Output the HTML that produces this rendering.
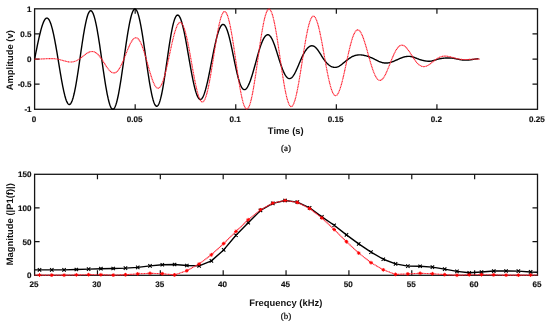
<!DOCTYPE html>
<html><head><meta charset="utf-8"><title>Figure</title>
<style>html,body{margin:0;padding:0;background:#fff}svg{display:block}</style>
</head><body>
<svg width="550" height="325" viewBox="0 0 550 325">
<rect width="550" height="325" fill="#fff"/>
<style>text{text-rendering:geometricPrecision}.tk{font:bold 81.0px "Liberation Sans", Arial, Helvetica, sans-serif;fill:#111;stroke:#111;stroke-width:1.5px}.lb{font:bold 94.0px "Liberation Sans", Arial, Helvetica, sans-serif;fill:#111}.cp{font:90px "Liberation Serif", "Times New Roman", serif;fill:#111;stroke:#111;stroke-width:2.5px}</style>
<rect x="34.6" y="8.8" width="502.9" height="100.5" fill="none" stroke="#151515" stroke-width="1.3"/>
<path d="M135.18,109.3 v-5 M135.18,8.8 v5" stroke="#111" stroke-width="1.2" fill="none"/>
<path d="M235.76,109.3 v-5 M235.76,8.8 v5" stroke="#111" stroke-width="1.2" fill="none"/>
<path d="M336.34,109.3 v-5 M336.34,8.8 v5" stroke="#111" stroke-width="1.2" fill="none"/>
<path d="M436.92,109.3 v-5 M436.92,8.8 v5" stroke="#111" stroke-width="1.2" fill="none"/>
<path d="M34.6,33.92 h5 M537.5,33.92 h-5" stroke="#111" stroke-width="1.2" fill="none"/>
<path d="M34.6,59.05 h5 M537.5,59.05 h-5" stroke="#111" stroke-width="1.2" fill="none"/>
<path d="M34.6,84.17 h5 M537.5,84.17 h-5" stroke="#111" stroke-width="1.2" fill="none"/>
<text transform="translate(34.00,121.60) scale(0.1)" text-anchor="middle" class="tk">0</text>
<text transform="translate(134.58,121.60) scale(0.1)" text-anchor="middle" class="tk">0.05</text>
<text transform="translate(235.16,121.60) scale(0.1)" text-anchor="middle" class="tk">0.1</text>
<text transform="translate(335.74,121.60) scale(0.1)" text-anchor="middle" class="tk">0.15</text>
<text transform="translate(436.32,121.60) scale(0.1)" text-anchor="middle" class="tk">0.2</text>
<text transform="translate(536.90,121.60) scale(0.1)" text-anchor="middle" class="tk">0.25</text>
<text transform="translate(31.60,11.80) scale(0.1)" text-anchor="end" class="tk">1</text>
<text transform="translate(31.60,36.92) scale(0.1)" text-anchor="end" class="tk">0.5</text>
<text transform="translate(31.60,62.05) scale(0.1)" text-anchor="end" class="tk">0</text>
<text transform="translate(31.60,87.17) scale(0.1)" text-anchor="end" class="tk">-0.5</text>
<text transform="translate(31.60,112.30) scale(0.1)" text-anchor="end" class="tk">-1</text>
<text transform="translate(285.75,134.00) scale(0.1)" text-anchor="middle" class="lb">Time (s)</text>
<text transform="translate(12.70,60.25) rotate(-90) scale(0.1)" text-anchor="middle" class="lb">Amplitude (v)</text>
<clipPath id="c1"><rect x="33.6" y="7.800000000000001" width="504.9" height="102.5"/></clipPath>
<g clip-path="url(#c1)">
<path d="M34.60,59.05 L35.09,56.60 L35.59,54.15 L36.08,51.70 L36.58,49.27 L37.07,46.86 L37.56,44.48 L38.06,42.15 L38.55,39.88 L39.04,37.66 L39.54,35.52 L40.03,33.47 L40.53,31.50 L41.02,29.64 L41.51,27.89 L42.01,26.26 L42.50,24.75 L43.00,23.38 L43.49,22.16 L43.98,21.08 L44.48,20.16 L44.97,19.40 L45.46,18.80 L45.96,18.38 L46.45,18.14 L46.95,18.07 L47.44,18.18 L47.93,18.48 L48.43,18.96 L48.92,19.62 L49.42,20.46 L49.91,21.49 L50.40,22.69 L50.90,24.07 L51.39,25.61 L51.88,27.32 L52.38,29.19 L52.87,31.21 L53.37,33.37 L53.86,35.67 L54.35,38.09 L54.85,40.63 L55.34,43.27 L55.84,46.00 L56.33,48.81 L56.82,51.69 L57.32,54.63 L57.81,57.60 L58.30,60.60 L58.80,63.61 L59.29,66.61 L59.79,69.60 L60.28,72.55 L60.77,75.45 L61.27,78.30 L61.76,81.06 L62.25,83.73 L62.75,86.29 L63.24,88.73 L63.74,91.04 L64.23,93.20 L64.72,95.20 L65.22,97.03 L65.71,98.69 L66.21,100.15 L66.70,101.41 L67.19,102.46 L67.69,103.31 L68.18,103.93 L68.67,104.33 L69.17,104.50 L69.66,104.45 L70.16,104.17 L70.65,103.65 L71.14,102.91 L71.64,101.94 L72.13,100.74 L72.63,99.32 L73.12,97.68 L73.61,95.83 L74.11,93.79 L74.60,91.55 L75.09,89.13 L75.59,86.54 L76.08,83.79 L76.58,80.91 L77.07,77.89 L77.56,74.76 L78.06,71.54 L78.55,68.24 L79.05,64.88 L79.54,61.48 L80.03,58.05 L80.53,54.62 L81.02,51.20 L81.51,47.82 L82.01,44.49 L82.50,41.23 L83.00,38.05 L83.49,34.98 L83.98,32.03 L84.48,29.23 L84.97,26.57 L85.47,24.08 L85.96,21.78 L86.45,19.66 L86.95,17.75 L87.44,16.06 L87.93,14.59 L88.43,13.34 L88.92,12.34 L89.42,11.57 L89.91,11.05 L90.40,10.77 L90.90,10.73 L91.39,10.94 L91.89,11.39 L92.38,12.07 L92.87,12.99 L93.37,14.14 L93.86,15.51 L94.35,17.10 L94.85,18.90 L95.34,20.90 L95.84,23.08 L96.33,25.45 L96.82,27.99 L97.32,30.68 L97.81,33.51 L98.31,36.47 L98.80,39.54 L99.29,42.72 L99.79,45.98 L100.28,49.31 L100.77,52.69 L101.27,56.11 L101.76,59.55 L102.26,62.99 L102.75,66.42 L103.24,69.82 L103.74,73.17 L104.23,76.46 L104.72,79.67 L105.22,82.79 L105.71,85.79 L106.21,88.68 L106.70,91.42 L107.19,94.01 L107.69,96.43 L108.18,98.68 L108.68,100.73 L109.17,102.59 L109.66,104.23 L110.16,105.66 L110.65,106.86 L111.14,107.83 L111.64,108.55 L112.13,109.04 L112.63,109.27 L113.12,109.26 L113.61,109.01 L114.11,108.51 L114.60,107.76 L115.10,106.78 L115.59,105.57 L116.08,104.13 L116.58,102.47 L117.07,100.60 L117.56,98.52 L118.06,96.25 L118.55,93.80 L119.05,91.18 L119.54,88.40 L120.03,85.48 L120.53,82.44 L121.02,79.27 L121.52,76.01 L122.01,72.66 L122.50,69.25 L123.00,65.79 L123.49,62.30 L123.98,58.79 L124.48,55.28 L124.97,51.79 L125.47,48.33 L125.96,44.93 L126.45,41.59 L126.95,38.35 L127.44,35.20 L127.94,32.17 L128.43,29.27 L128.92,26.52 L129.42,23.93 L129.91,21.51 L130.40,19.28 L130.90,17.24 L131.39,15.41 L131.89,13.80 L132.38,12.40 L132.87,11.24 L133.37,10.32 L133.86,9.64 L134.36,9.20 L134.85,9.01 L135.34,9.07 L135.84,9.38 L136.33,9.95 L136.82,10.76 L137.32,11.81 L137.81,13.10 L138.31,14.62 L138.80,16.36 L139.29,18.31 L139.79,20.47 L140.28,22.81 L140.78,25.33 L141.27,28.02 L141.76,30.85 L142.26,33.82 L142.75,36.91 L143.24,40.10 L143.74,43.38 L144.23,46.73 L144.73,50.14 L145.22,53.58 L145.71,57.04 L146.21,60.50 L146.70,63.95 L147.20,67.36 L147.69,70.73 L148.18,74.02 L148.68,77.23 L149.17,80.35 L149.66,83.34 L150.16,86.21 L150.65,88.93 L151.15,91.49 L151.64,93.89 L152.13,96.10 L152.63,98.11 L153.12,99.93 L153.61,101.52 L154.11,102.90 L154.60,104.05 L155.10,104.97 L155.59,105.64 L156.08,106.08 L156.58,106.27 L157.07,106.21 L157.57,105.90 L158.06,105.34 L158.55,104.53 L159.05,103.48 L159.54,102.19 L160.03,100.65 L160.53,98.90 L161.02,96.92 L161.52,94.73 L162.01,92.35 L162.50,89.79 L163.00,87.06 L163.49,84.17 L163.99,81.15 L164.48,78.01 L164.97,74.78 L165.47,71.46 L165.96,68.09 L166.45,64.67 L166.95,61.24 L167.44,57.80 L167.94,54.39 L168.43,51.02 L168.92,47.70 L169.42,44.47 L169.91,41.33 L170.41,38.31 L170.90,35.42 L171.39,32.68 L171.89,30.09 L172.38,27.69 L172.87,25.47 L173.37,23.44 L173.86,21.62 L174.36,20.01 L174.85,18.63 L175.34,17.46 L175.84,16.53 L176.33,15.82 L176.83,15.34 L177.32,15.09 L177.81,15.06 L178.31,15.25 L178.80,15.66 L179.29,16.28 L179.79,17.11 L180.28,18.13 L180.78,19.35 L181.27,20.75 L181.76,22.32 L182.26,24.06 L182.75,25.96 L183.25,28.00 L183.74,30.18 L184.23,32.47 L184.73,34.89 L185.22,37.40 L185.71,39.99 L186.21,42.67 L186.70,45.40 L187.20,48.18 L187.69,51.01 L188.18,53.85 L188.68,56.70 L189.17,59.56 L189.67,62.40 L190.16,65.21 L190.65,67.98 L191.15,70.70 L191.64,73.35 L192.13,75.93 L192.63,78.43 L193.12,80.83 L193.62,83.12 L194.11,85.29 L194.60,87.34 L195.10,89.25 L195.59,91.02 L196.08,92.64 L196.58,94.10 L197.07,95.39 L197.57,96.52 L198.06,97.47 L198.55,98.24 L199.05,98.82 L199.54,99.23 L200.04,99.44 L200.53,99.47 L201.02,99.30 L201.52,98.95 L202.01,98.41 L202.50,97.69 L203.00,96.80 L203.49,95.74 L203.99,94.52 L204.48,93.14 L204.97,91.61 L205.47,89.94 L205.96,88.14 L206.46,86.22 L206.95,84.19 L207.44,82.06 L207.94,79.84 L208.43,77.54 L208.92,75.17 L209.42,72.74 L209.91,70.27 L210.41,67.76 L210.90,65.23 L211.39,62.69 L211.89,60.14 L212.38,57.61 L212.88,55.11 L213.37,52.64 L213.86,50.21 L214.36,47.84 L214.85,45.53 L215.34,43.30 L215.84,41.16 L216.33,39.11 L216.83,37.16 L217.32,35.33 L217.81,33.62 L218.31,32.03 L218.80,30.58 L219.30,29.27 L219.79,28.11 L220.28,27.10 L220.78,26.24 L221.27,25.55 L221.76,25.02 L222.26,24.65 L222.75,24.45 L223.25,24.42 L223.74,24.56 L224.23,24.87 L224.73,25.35 L225.22,26.00 L225.72,26.82 L226.21,27.80 L226.70,28.94 L227.20,30.24 L227.69,31.69 L228.18,33.28 L228.68,35.00 L229.17,36.85 L229.67,38.81 L230.16,40.88 L230.65,43.04 L231.15,45.27 L231.64,47.57 L232.14,49.93 L232.63,52.32 L233.12,54.74 L233.62,57.17 L234.11,59.59 L234.60,62.00 L235.10,64.37 L235.59,66.71 L236.09,68.98 L236.58,71.18 L237.07,73.30 L237.57,75.32 L238.06,77.24 L238.55,79.05 L239.05,80.73 L239.54,82.29 L240.04,83.70 L240.53,84.97 L241.02,86.09 L241.52,87.07 L242.01,87.88 L242.51,88.55 L243.00,89.06 L243.49,89.41 L243.99,89.61 L244.48,89.66 L244.97,89.56 L245.47,89.33 L245.96,88.95 L246.46,88.45 L246.95,87.81 L247.44,87.06 L247.94,86.20 L248.43,85.23 L248.93,84.16 L249.42,82.99 L249.91,81.74 L250.41,80.40 L250.90,78.99 L251.39,77.51 L251.89,75.97 L252.38,74.37 L252.88,72.72 L253.37,71.02 L253.86,69.29 L254.36,67.54 L254.85,65.75 L255.35,63.95 L255.84,62.14 L256.33,60.33 L256.83,58.51 L257.32,56.72 L257.81,54.96 L258.31,53.24 L258.80,51.56 L259.30,49.92 L259.79,48.35 L260.28,46.84 L260.78,45.39 L261.27,44.02 L261.77,42.72 L262.26,41.51 L262.75,40.39 L263.25,39.36 L263.74,38.42 L264.23,37.59 L264.73,36.85 L265.22,36.22 L265.72,35.70 L266.21,35.29 L266.70,34.99 L267.20,34.81 L267.69,34.74 L268.19,34.78 L268.68,34.95 L269.17,35.23 L269.67,35.62 L270.16,36.13 L270.65,36.76 L271.15,37.50 L271.64,38.34 L272.14,39.28 L272.63,40.33 L273.12,41.46 L273.62,42.68 L274.11,43.97 L274.61,45.33 L275.10,46.75 L275.59,48.23 L276.09,49.74 L276.58,51.29 L277.07,52.86 L277.57,54.44 L278.06,56.03 L278.56,57.61 L279.05,59.18 L279.54,60.72 L280.04,62.24 L280.53,63.73 L281.03,65.17 L281.52,66.57 L282.01,67.91 L282.51,69.20 L283.00,70.42 L283.49,71.57 L283.99,72.65 L284.48,73.64 L284.98,74.56 L285.47,75.39 L285.96,76.13 L286.46,76.77 L286.95,77.33 L287.44,77.78 L287.94,78.14 L288.43,78.40 L288.93,78.56 L289.42,78.62 L289.91,78.58 L290.41,78.44 L290.90,78.21 L291.40,77.87 L291.89,77.45 L292.38,76.93 L292.88,76.33 L293.37,75.65 L293.86,74.89 L294.36,74.06 L294.85,73.16 L295.35,72.21 L295.84,71.21 L296.33,70.16 L296.83,69.07 L297.32,67.95 L297.82,66.81 L298.31,65.65 L298.80,64.49 L299.30,63.32 L299.79,62.15 L300.28,61.00 L300.78,59.86 L301.27,58.75 L301.77,57.66 L302.26,56.62 L302.75,55.61 L303.25,54.64 L303.74,53.71 L304.24,52.83 L304.73,51.99 L305.22,51.21 L305.72,50.47 L306.21,49.78 L306.70,49.14 L307.20,48.56 L307.69,48.03 L308.19,47.55 L308.68,47.13 L309.17,46.77 L309.67,46.46 L310.16,46.21 L310.66,46.02 L311.15,45.88 L311.64,45.81 L312.14,45.80 L312.63,45.85 L313.12,45.96 L313.62,46.14 L314.11,46.38 L314.61,46.69 L315.10,47.06 L315.59,47.49 L316.09,47.97 L316.58,48.51 L317.08,49.10 L317.57,49.74 L318.06,50.41 L318.56,51.12 L319.05,51.86 L319.54,52.62 L320.04,53.40 L320.53,54.19 L321.03,54.98 L321.52,55.77 L322.01,56.55 L322.51,57.32 L323.00,58.07 L323.50,58.80 L323.99,59.51 L324.48,60.18 L324.98,60.83 L325.47,61.46 L325.96,62.05 L326.46,62.61 L326.95,63.14 L327.45,63.64 L327.94,64.11 L328.43,64.55 L328.93,64.96 L329.42,65.33 L329.91,65.68 L330.41,65.99 L330.90,66.27 L331.40,66.52 L331.89,66.74 L332.38,66.93 L332.88,67.08 L333.37,67.20 L333.87,67.30 L334.36,67.35 L334.85,67.38 L335.35,67.37 L335.84,67.32 L336.33,67.24 L336.83,67.12 L337.32,66.97 L337.82,66.78 L338.31,66.56 L338.80,66.31 L339.30,66.04 L339.79,65.74 L340.29,65.42 L340.78,65.08 L341.27,64.72 L341.77,64.35 L342.26,63.96 L342.75,63.57 L343.25,63.17 L343.74,62.76 L344.24,62.35 L344.73,61.94 L345.22,61.54 L345.72,61.13 L346.21,60.73 L346.71,60.34 L347.20,59.95 L347.69,59.58 L348.19,59.21 L348.68,58.86 L349.17,58.51 L349.67,58.18 L350.16,57.86 L350.66,57.55 L351.15,57.26 L351.64,56.98 L352.14,56.72 L352.63,56.47 L353.13,56.24 L353.62,56.04 L354.11,55.84 L354.61,55.67 L355.10,55.52 L355.59,55.38 L356.09,55.26 L356.58,55.16 L357.08,55.08 L357.57,55.01 L358.06,54.96 L358.56,54.92 L359.05,54.89 L359.55,54.88 L360.04,54.88 L360.53,54.89 L361.03,54.92 L361.52,54.96 L362.01,55.01 L362.51,55.08 L363.00,55.15 L363.50,55.24 L363.99,55.34 L364.48,55.44 L364.98,55.56 L365.47,55.68 L365.97,55.81 L366.46,55.95 L366.95,56.10 L367.45,56.26 L367.94,56.42 L368.43,56.59 L368.93,56.77 L369.42,56.96 L369.92,57.15 L370.41,57.35 L370.90,57.55 L371.40,57.76 L371.89,57.98 L372.39,58.21 L372.88,58.43 L373.37,58.67 L373.87,58.91 L374.36,59.15 L374.85,59.40 L375.35,59.64 L375.84,59.89 L376.34,60.14 L376.83,60.39 L377.32,60.63 L377.82,60.87 L378.31,61.10 L378.80,61.33 L379.30,61.54 L379.79,61.75 L380.29,61.94 L380.78,62.12 L381.27,62.29 L381.77,62.44 L382.26,62.58 L382.76,62.70 L383.25,62.80 L383.74,62.89 L384.24,62.96 L384.73,63.01 L385.22,63.05 L385.72,63.07 L386.21,63.07 L386.71,63.05 L387.20,63.02 L387.69,62.96 L388.19,62.89 L388.68,62.81 L389.18,62.71 L389.67,62.60 L390.16,62.47 L390.66,62.33 L391.15,62.18 L391.64,62.02 L392.14,61.85 L392.63,61.67 L393.13,61.48 L393.62,61.29 L394.11,61.09 L394.61,60.88 L395.10,60.67 L395.60,60.45 L396.09,60.23 L396.58,60.01 L397.08,59.79 L397.57,59.56 L398.06,59.34 L398.56,59.11 L399.05,58.89 L399.55,58.67 L400.04,58.46 L400.53,58.25 L401.03,58.04 L401.52,57.85 L402.02,57.66 L402.51,57.48 L403.00,57.31 L403.50,57.16 L403.99,57.01 L404.48,56.88 L404.98,56.76 L405.47,56.66 L405.97,56.57 L406.46,56.49 L406.95,56.44 L407.45,56.39 L407.94,56.36 L408.44,56.35 L408.93,56.35 L409.42,56.37 L409.92,56.40 L410.41,56.46 L410.90,56.53 L411.40,56.61 L411.89,56.72 L412.39,56.84 L412.88,56.98 L413.37,57.13 L413.87,57.29 L414.36,57.46 L414.86,57.65 L415.35,57.83 L415.84,58.03 L416.34,58.23 L416.83,58.43 L417.32,58.63 L417.82,58.82 L418.31,59.01 L418.81,59.20 L419.30,59.37 L419.79,59.55 L420.29,59.71 L420.78,59.87 L421.27,60.01 L421.77,60.16 L422.26,60.29 L422.76,60.41 L423.25,60.53 L423.74,60.64 L424.24,60.74 L424.73,60.84 L425.23,60.92 L425.72,61.00 L426.21,61.07 L426.71,61.12 L427.20,61.17 L427.69,61.21 L428.19,61.23 L428.68,61.25 L429.18,61.25 L429.67,61.23 L430.16,61.19 L430.66,61.14 L431.15,61.07 L431.65,60.99 L432.14,60.89 L432.63,60.77 L433.13,60.65 L433.62,60.51 L434.11,60.36 L434.61,60.21 L435.10,60.06 L435.60,59.90 L436.09,59.75 L436.58,59.59 L437.08,59.45 L437.57,59.30 L438.07,59.17 L438.56,59.04 L439.05,58.93 L439.55,58.82 L440.04,58.72 L440.53,58.62 L441.03,58.54 L441.52,58.46 L442.02,58.39 L442.51,58.33 L443.00,58.27 L443.50,58.22 L443.99,58.17 L444.49,58.13 L444.98,58.09 L445.47,58.06 L445.97,58.03 L446.46,58.01 L446.95,57.98 L447.45,57.97 L447.94,57.96 L448.44,57.95 L448.93,57.94 L449.42,57.95 L449.92,57.96 L450.41,57.98 L450.91,58.01 L451.40,58.05 L451.89,58.09 L452.39,58.15 L452.88,58.22 L453.37,58.29 L453.87,58.37 L454.36,58.46 L454.86,58.56 L455.35,58.65 L455.84,58.76 L456.34,58.86 L456.83,58.96 L457.33,59.07 L457.82,59.17 L458.31,59.28 L458.81,59.38 L459.30,59.48 L459.79,59.58 L460.29,59.67 L460.78,59.76 L461.28,59.84 L461.77,59.91 L462.26,59.97 L462.76,60.03 L463.25,60.07 L463.74,60.10 L464.24,60.13 L464.73,60.15 L465.23,60.15 L465.72,60.15 L466.21,60.15 L466.71,60.13 L467.20,60.11 L467.70,60.07 L468.19,60.04 L468.68,59.99 L469.18,59.94 L469.67,59.88 L470.16,59.82 L470.66,59.76 L471.15,59.69 L471.65,59.62 L472.14,59.54 L472.63,59.47 L473.13,59.40 L473.62,59.32 L474.12,59.25 L474.61,59.18 L475.10,59.11 L475.60,59.04 L476.09,58.97 L476.58,58.91 L477.08,58.85 L477.57,58.80 L478.07,58.75 L478.56,58.70" fill="none" stroke="#000" stroke-width="1.4" stroke-linejoin="round"/>
<path d="M34.60,59.05 L35.10,59.05 L35.59,59.05 L36.09,59.05 L36.58,59.05 L37.08,59.04 L37.57,59.04 L38.07,59.04 L38.56,59.03 L39.06,59.02 L39.55,59.01 L40.05,59.00 L40.54,58.98 L41.04,58.97 L41.53,58.95 L42.03,58.93 L42.52,58.91 L43.02,58.89 L43.51,58.86 L44.01,58.84 L44.50,58.81 L45.00,58.78 L45.49,58.76 L45.99,58.73 L46.48,58.70 L46.98,58.68 L47.47,58.65 L47.97,58.63 L48.46,58.61 L48.96,58.59 L49.45,58.58 L49.95,58.56 L50.44,58.56 L50.94,58.56 L51.43,58.56 L51.93,58.57 L52.42,58.58 L52.92,58.61 L53.42,58.63 L53.91,58.67 L54.41,58.71 L54.90,58.76 L55.40,58.82 L55.89,58.89 L56.39,58.96 L56.88,59.04 L57.38,59.13 L57.87,59.23 L58.37,59.33 L58.86,59.44 L59.36,59.56 L59.85,59.68 L60.35,59.80 L60.84,59.94 L61.34,60.07 L61.83,60.21 L62.33,60.35 L62.82,60.49 L63.32,60.63 L63.81,60.77 L64.31,60.91 L64.80,61.05 L65.30,61.18 L65.79,61.31 L66.29,61.43 L66.78,61.54 L67.28,61.64 L67.77,61.73 L68.27,61.82 L68.76,61.88 L69.26,61.94 L69.75,61.98 L70.25,62.00 L70.74,62.01 L71.24,62.00 L71.73,61.97 L72.23,61.92 L72.73,61.86 L73.22,61.77 L73.72,61.66 L74.21,61.53 L74.71,61.38 L75.20,61.21 L75.70,61.01 L76.19,60.80 L76.69,60.56 L77.18,60.31 L77.68,60.04 L78.17,59.75 L78.67,59.44 L79.16,59.11 L79.66,58.78 L80.15,58.42 L80.65,58.06 L81.14,57.69 L81.64,57.31 L82.13,56.92 L82.63,56.53 L83.12,56.14 L83.62,55.74 L84.11,55.35 L84.61,54.97 L85.10,54.59 L85.60,54.23 L86.09,53.87 L86.59,53.54 L87.08,53.21 L87.58,52.91 L88.07,52.63 L88.57,52.38 L89.06,52.15 L89.56,51.96 L90.05,51.79 L90.55,51.66 L91.05,51.56 L91.54,51.50 L92.04,51.48 L92.53,51.50 L93.03,51.56 L93.52,51.66 L94.02,51.81 L94.51,51.99 L95.01,52.22 L95.50,52.50 L96.00,52.82 L96.49,53.18 L96.99,53.58 L97.48,54.02 L97.98,54.51 L98.47,55.03 L98.97,55.59 L99.46,56.18 L99.96,56.80 L100.45,57.46 L100.95,58.14 L101.44,58.84 L101.94,59.57 L102.43,60.31 L102.93,61.07 L103.42,61.83 L103.92,62.61 L104.41,63.38 L104.91,64.15 L105.40,64.92 L105.90,65.67 L106.39,66.42 L106.89,67.14 L107.38,67.83 L107.88,68.50 L108.37,69.14 L108.87,69.74 L109.36,70.31 L109.86,70.82 L110.36,71.29 L110.85,71.71 L111.35,72.07 L111.84,72.37 L112.34,72.61 L112.83,72.79 L113.33,72.90 L113.82,72.95 L114.32,72.92 L114.81,72.82 L115.31,72.65 L115.80,72.41 L116.30,72.09 L116.79,71.70 L117.29,71.23 L117.78,70.70 L118.28,70.09 L118.77,69.41 L119.27,68.67 L119.76,67.86 L120.26,66.99 L120.75,66.07 L121.25,65.09 L121.74,64.05 L122.24,62.98 L122.73,61.86 L123.23,60.70 L123.72,59.52 L124.22,58.30 L124.71,57.07 L125.21,55.83 L125.70,54.58 L126.20,53.32 L126.69,52.07 L127.19,50.84 L127.68,49.62 L128.18,48.43 L128.68,47.27 L129.17,46.15 L129.67,45.07 L130.16,44.05 L130.66,43.08 L131.15,42.17 L131.65,41.34 L132.14,40.58 L132.64,39.90 L133.13,39.30 L133.63,38.79 L134.12,38.38 L134.62,38.06 L135.11,37.84 L135.61,37.73 L136.10,37.72 L136.60,37.82 L137.09,38.02 L137.59,38.34 L138.08,38.76 L138.58,39.29 L139.07,39.93 L139.57,40.67 L140.06,41.52 L140.56,42.47 L141.05,43.51 L141.55,44.65 L142.04,45.88 L142.54,47.19 L143.03,48.58 L143.53,50.04 L144.02,51.57 L144.52,53.16 L145.01,54.80 L145.51,56.49 L146.00,58.21 L146.50,59.96 L147.00,61.73 L147.49,63.51 L147.99,65.29 L148.48,67.07 L148.98,68.83 L149.47,70.57 L149.97,72.27 L150.46,73.93 L150.96,75.54 L151.45,77.09 L151.95,78.56 L152.44,79.96 L152.94,81.27 L153.43,82.49 L153.93,83.61 L154.42,84.62 L154.92,85.52 L155.41,86.30 L155.91,86.95 L156.40,87.47 L156.90,87.85 L157.39,88.10 L157.89,88.21 L158.38,88.17 L158.88,87.99 L159.37,87.66 L159.87,87.19 L160.36,86.57 L160.86,85.81 L161.35,84.91 L161.85,83.87 L162.34,82.69 L162.84,81.39 L163.33,79.96 L163.83,78.41 L164.32,76.75 L164.82,74.98 L165.31,73.11 L165.81,71.16 L166.31,69.12 L166.80,67.02 L167.30,64.85 L167.79,62.63 L168.29,60.37 L168.78,58.08 L169.28,55.78 L169.77,53.46 L170.27,51.15 L170.76,48.86 L171.26,46.59 L171.75,44.37 L172.25,42.19 L172.74,40.08 L173.24,38.04 L173.73,36.08 L174.23,34.22 L174.72,32.46 L175.22,30.82 L175.71,29.30 L176.21,27.92 L176.70,26.68 L177.20,25.58 L177.69,24.64 L178.19,23.86 L178.68,23.25 L179.18,22.81 L179.67,22.54 L180.17,22.45 L180.66,22.54 L181.16,22.81 L181.65,23.26 L182.15,23.89 L182.64,24.70 L183.14,25.69 L183.63,26.84 L184.13,28.17 L184.63,29.65 L185.12,31.30 L185.62,33.09 L186.11,35.03 L186.61,37.09 L187.10,39.28 L187.60,41.59 L188.09,44.00 L188.59,46.50 L189.08,49.08 L189.58,51.73 L190.07,54.43 L190.57,57.18 L191.06,59.95 L191.56,62.74 L192.05,65.53 L192.55,68.31 L193.04,71.07 L193.54,73.78 L194.03,76.44 L194.53,79.03 L195.02,81.54 L195.52,83.96 L196.01,86.27 L196.51,88.46 L197.00,90.52 L197.50,92.44 L197.99,94.21 L198.49,95.82 L198.98,97.26 L199.48,98.52 L199.97,99.59 L200.47,100.47 L200.96,101.15 L201.46,101.63 L201.95,101.91 L202.45,101.97 L202.94,101.83 L203.44,101.48 L203.94,100.91 L204.43,100.14 L204.93,99.16 L205.42,97.98 L205.92,96.60 L206.41,95.03 L206.91,93.28 L207.40,91.35 L207.90,89.25 L208.39,87.00 L208.89,84.59 L209.38,82.05 L209.88,79.38 L210.37,76.60 L210.87,73.72 L211.36,70.76 L211.86,67.72 L212.35,64.63 L212.85,61.49 L213.34,58.33 L213.84,55.16 L214.33,51.99 L214.83,48.84 L215.32,45.73 L215.82,42.67 L216.31,39.68 L216.81,36.77 L217.30,33.96 L217.80,31.26 L218.29,28.68 L218.79,26.25 L219.28,23.96 L219.78,21.83 L220.27,19.88 L220.77,18.12 L221.26,16.54 L221.76,15.17 L222.26,14.01 L222.75,13.07 L223.25,12.34 L223.74,11.84 L224.24,11.58 L224.73,11.54 L225.23,11.73 L225.72,12.16 L226.22,12.81 L226.71,13.70 L227.21,14.81 L227.70,16.14 L228.20,17.68 L228.69,19.43 L229.19,21.38 L229.68,23.51 L230.18,25.83 L230.67,28.32 L231.17,30.96 L231.66,33.74 L232.16,36.66 L232.65,39.70 L233.15,42.83 L233.64,46.05 L234.14,49.35 L234.63,52.70 L235.13,56.09 L235.62,59.50 L236.12,62.91 L236.61,66.32 L237.11,69.69 L237.60,73.02 L238.10,76.29 L238.59,79.48 L239.09,82.58 L239.58,85.57 L240.08,88.44 L240.57,91.16 L241.07,93.74 L241.57,96.14 L242.06,98.38 L242.56,100.42 L243.05,102.27 L243.55,103.90 L244.04,105.32 L244.54,106.52 L245.03,107.48 L245.53,108.22 L246.02,108.71 L246.52,108.96 L247.01,108.97 L247.51,108.73 L248.00,108.25 L248.50,107.53 L248.99,106.57 L249.49,105.39 L249.98,103.97 L250.48,102.33 L250.97,100.48 L251.47,98.43 L251.96,96.19 L252.46,93.76 L252.95,91.16 L253.45,88.41 L253.94,85.50 L254.44,82.47 L254.93,79.33 L255.43,76.08 L255.92,72.75 L256.42,69.36 L256.91,65.91 L257.41,62.43 L257.90,58.93 L258.40,55.43 L258.89,51.95 L259.39,48.51 L259.89,45.12 L260.38,41.79 L260.88,38.55 L261.37,35.41 L261.87,32.39 L262.36,29.50 L262.86,26.75 L263.35,24.17 L263.85,21.75 L264.34,19.52 L264.84,17.48 L265.33,15.65 L265.83,14.03 L266.32,12.63 L266.82,11.45 L267.31,10.51 L267.81,9.81 L268.30,9.35 L268.80,9.13 L269.29,9.15 L269.79,9.42 L270.28,9.93 L270.78,10.67 L271.27,11.66 L271.77,12.87 L272.26,14.30 L272.76,15.95 L273.25,17.81 L273.75,19.87 L274.24,22.12 L274.74,24.54 L275.23,27.12 L275.73,29.86 L276.22,32.73 L276.72,35.73 L277.21,38.83 L277.71,42.03 L278.21,45.30 L278.70,48.64 L279.20,52.02 L279.69,55.42 L280.19,58.84 L280.68,62.25 L281.18,65.63 L281.67,68.98 L282.17,72.27 L282.66,75.49 L283.16,78.62 L283.65,81.64 L284.15,84.55 L284.64,87.33 L285.14,89.96 L285.63,92.44 L286.13,94.74 L286.62,96.86 L287.12,98.80 L287.61,100.53 L288.11,102.06 L288.60,103.37 L289.10,104.47 L289.59,105.34 L290.09,105.98 L290.58,106.39 L291.08,106.57 L291.57,106.51 L292.07,106.23 L292.56,105.71 L293.06,104.98 L293.55,104.01 L294.05,102.84 L294.54,101.45 L295.04,99.87 L295.53,98.09 L296.03,96.13 L296.52,93.99 L297.02,91.69 L297.52,89.24 L298.01,86.66 L298.51,83.95 L299.00,81.13 L299.50,78.21 L299.99,75.22 L300.49,72.15 L300.98,69.04 L301.48,65.89 L301.97,62.72 L302.47,59.55 L302.96,56.39 L303.46,53.26 L303.95,50.17 L304.45,47.14 L304.94,44.18 L305.44,41.31 L305.93,38.53 L306.43,35.87 L306.92,33.34 L307.42,30.94 L307.91,28.70 L308.41,26.61 L308.90,24.69 L309.40,22.95 L309.89,21.40 L310.39,20.03 L310.88,18.87 L311.38,17.90 L311.87,17.14 L312.37,16.59 L312.86,16.25 L313.36,16.12 L313.85,16.20 L314.35,16.49 L314.84,16.99 L315.34,17.68 L315.84,18.58 L316.33,19.66 L316.83,20.94 L317.32,22.38 L317.82,24.00 L318.31,25.78 L318.81,27.71 L319.30,29.79 L319.80,31.99 L320.29,34.31 L320.79,36.73 L321.28,39.25 L321.78,41.84 L322.27,44.51 L322.77,47.22 L323.26,49.98 L323.76,52.76 L324.25,55.55 L324.75,58.34 L325.24,61.11 L325.74,63.86 L326.23,66.56 L326.73,69.20 L327.22,71.78 L327.72,74.27 L328.21,76.67 L328.71,78.97 L329.20,81.15 L329.70,83.21 L330.19,85.14 L330.69,86.92 L331.18,88.55 L331.68,90.03 L332.17,91.34 L332.67,92.49 L333.16,93.46 L333.66,94.26 L334.15,94.88 L334.65,95.31 L335.15,95.57 L335.64,95.65 L336.14,95.55 L336.63,95.27 L337.13,94.81 L337.62,94.19 L338.12,93.40 L338.61,92.45 L339.11,91.34 L339.60,90.09 L340.10,88.70 L340.59,87.17 L341.09,85.52 L341.58,83.76 L342.08,81.89 L342.57,79.93 L343.07,77.88 L343.56,75.76 L344.06,73.58 L344.55,71.35 L345.05,69.08 L345.54,66.79 L346.04,64.48 L346.53,62.16 L347.03,59.86 L347.52,57.57 L348.02,55.31 L348.51,53.10 L349.01,50.93 L349.50,48.83 L350.00,46.80 L350.49,44.85 L350.99,43.00 L351.48,41.24 L351.98,39.58 L352.47,38.04 L352.97,36.62 L353.47,35.32 L353.96,34.16 L354.46,33.13 L354.95,32.23 L355.45,31.48 L355.94,30.88 L356.44,30.41 L356.93,30.10 L357.43,29.92 L357.92,29.90 L358.42,30.01 L358.91,30.27 L359.41,30.66 L359.90,31.19 L360.40,31.85 L360.89,32.64 L361.39,33.54 L361.88,34.56 L362.38,35.69 L362.87,36.91 L363.37,38.23 L363.86,39.64 L364.36,41.12 L364.85,42.67 L365.35,44.28 L365.84,45.94 L366.34,47.65 L366.83,49.39 L367.33,51.15 L367.82,52.93 L368.32,54.71 L368.81,56.49 L369.31,58.26 L369.80,60.01 L370.30,61.73 L370.79,63.41 L371.29,65.05 L371.79,66.64 L372.28,68.16 L372.78,69.62 L373.27,71.00 L373.77,72.31 L374.26,73.53 L374.76,74.66 L375.25,75.70 L375.75,76.64 L376.24,77.48 L376.74,78.22 L377.23,78.85 L377.73,79.37 L378.22,79.79 L378.72,80.09 L379.21,80.29 L379.71,80.38 L380.20,80.37 L380.70,80.24 L381.19,80.02 L381.69,79.70 L382.18,79.28 L382.68,78.76 L383.17,78.16 L383.67,77.47 L384.16,76.71 L384.66,75.87 L385.15,74.96 L385.65,73.99 L386.14,72.96 L386.64,71.88 L387.13,70.75 L387.63,69.59 L388.12,68.40 L388.62,67.18 L389.11,65.94 L389.61,64.69 L390.10,63.44 L390.60,62.19 L391.10,60.94 L391.59,59.71 L392.09,58.50 L392.58,57.32 L393.08,56.16 L393.57,55.05 L394.07,53.97 L394.56,52.94 L395.06,51.97 L395.55,51.04 L396.05,50.18 L396.54,49.38 L397.04,48.64 L397.53,47.97 L398.03,47.36 L398.52,46.83 L399.02,46.37 L399.51,45.99 L400.01,45.67 L400.50,45.43 L401.00,45.27 L401.49,45.17 L401.99,45.15 L402.48,45.20 L402.98,45.32 L403.47,45.50 L403.97,45.75 L404.46,46.05 L404.96,46.42 L405.45,46.84 L405.95,47.31 L406.44,47.83 L406.94,48.40 L407.43,49.00 L407.93,49.64 L408.42,50.31 L408.92,51.01 L409.42,51.74 L409.91,52.48 L410.41,53.23 L410.90,54.00 L411.40,54.77 L411.89,55.55 L412.39,56.32 L412.88,57.09 L413.38,57.84 L413.87,58.58 L414.37,59.31 L414.86,60.01 L415.36,60.69 L415.85,61.34 L416.35,61.96 L416.84,62.55 L417.34,63.11 L417.83,63.63 L418.33,64.11 L418.82,64.55 L419.32,64.95 L419.81,65.31 L420.31,65.62 L420.80,65.89 L421.30,66.12 L421.79,66.30 L422.29,66.45 L422.78,66.54 L423.28,66.60 L423.77,66.62 L424.27,66.59 L424.76,66.53 L425.26,66.43 L425.75,66.30 L426.25,66.13 L426.74,65.93 L427.24,65.70 L427.73,65.45 L428.23,65.17 L428.73,64.86 L429.22,64.54 L429.72,64.20 L430.21,63.85 L430.71,63.48 L431.20,63.10 L431.70,62.72 L432.19,62.33 L432.69,61.94 L433.18,61.54 L433.68,61.15 L434.17,60.77 L434.67,60.39 L435.16,60.01 L435.66,59.65 L436.15,59.30 L436.65,58.96 L437.14,58.64 L437.64,58.33 L438.13,58.04 L438.63,57.77 L439.12,57.52 L439.62,57.29 L440.11,57.07 L440.61,56.88 L441.10,56.71 L441.60,56.56 L442.09,56.43 L442.59,56.33 L443.08,56.24 L443.58,56.17 L444.07,56.13 L444.57,56.10 L445.06,56.09 L445.56,56.10 L446.05,56.12 L446.55,56.16 L447.05,56.22 L447.54,56.29 L448.04,56.37 L448.53,56.46 L449.03,56.57 L449.52,56.68 L450.02,56.80 L450.51,56.93 L451.01,57.06 L451.50,57.20 L452.00,57.34 L452.49,57.48 L452.99,57.62 L453.48,57.76 L453.98,57.90 L454.47,58.04 L454.97,58.17 L455.46,58.30 L455.96,58.43 L456.45,58.55 L456.95,58.67 L457.44,58.78 L457.94,58.88 L458.43,58.98 L458.93,59.06 L459.42,59.14 L459.92,59.22 L460.41,59.28 L460.91,59.34 L461.40,59.39 L461.90,59.43 L462.39,59.47 L462.89,59.50 L463.38,59.52 L463.88,59.53 L464.37,59.54 L464.87,59.54 L465.36,59.54 L465.86,59.53 L466.36,59.52 L466.85,59.51 L467.35,59.49 L467.84,59.47 L468.34,59.45 L468.83,59.42 L469.33,59.40 L469.82,59.37 L470.32,59.34 L470.81,59.31 L471.31,59.29 L471.80,59.26 L472.30,59.24 L472.79,59.21 L473.29,59.19 L473.78,59.17 L474.28,59.15 L474.77,59.13 L475.27,59.11 L475.76,59.10 L476.26,59.09 L476.75,59.08 L477.25,59.07 L477.74,59.06 L478.24,59.06 L478.73,59.05 L479.23,59.05 L479.72,59.05" fill="none" stroke="#ff2030" stroke-width="1.15" stroke-dasharray="1.2,0.4"/>
</g>
<text transform="translate(286.00,151.10) scale(0.1)" text-anchor="middle" class="cp">(a)</text>
<rect x="34.6" y="174.3" width="502.9" height="101.0" fill="none" stroke="#151515" stroke-width="1.3"/>
<path d="M97.46,275.3 v-5 M97.46,174.3 v5" stroke="#111" stroke-width="1.2" fill="none"/>
<path d="M160.32,275.3 v-5 M160.32,174.3 v5" stroke="#111" stroke-width="1.2" fill="none"/>
<path d="M223.19,275.3 v-5 M223.19,174.3 v5" stroke="#111" stroke-width="1.2" fill="none"/>
<path d="M286.05,275.3 v-5 M286.05,174.3 v5" stroke="#111" stroke-width="1.2" fill="none"/>
<path d="M348.91,275.3 v-5 M348.91,174.3 v5" stroke="#111" stroke-width="1.2" fill="none"/>
<path d="M411.77,275.3 v-5 M411.77,174.3 v5" stroke="#111" stroke-width="1.2" fill="none"/>
<path d="M474.64,275.3 v-5 M474.64,174.3 v5" stroke="#111" stroke-width="1.2" fill="none"/>
<path d="M34.6,207.97 h5 M537.5,207.97 h-5" stroke="#111" stroke-width="1.2" fill="none"/>
<path d="M34.6,241.63 h5 M537.5,241.63 h-5" stroke="#111" stroke-width="1.2" fill="none"/>
<text transform="translate(34.00,287.20) scale(0.1)" text-anchor="middle" class="tk">25</text>
<text transform="translate(96.86,287.20) scale(0.1)" text-anchor="middle" class="tk">30</text>
<text transform="translate(159.72,287.20) scale(0.1)" text-anchor="middle" class="tk">35</text>
<text transform="translate(222.59,287.20) scale(0.1)" text-anchor="middle" class="tk">40</text>
<text transform="translate(285.45,287.20) scale(0.1)" text-anchor="middle" class="tk">45</text>
<text transform="translate(348.31,287.20) scale(0.1)" text-anchor="middle" class="tk">50</text>
<text transform="translate(411.17,287.20) scale(0.1)" text-anchor="middle" class="tk">55</text>
<text transform="translate(474.04,287.20) scale(0.1)" text-anchor="middle" class="tk">60</text>
<text transform="translate(536.90,287.20) scale(0.1)" text-anchor="middle" class="tk">65</text>
<text transform="translate(31.60,177.30) scale(0.1)" text-anchor="end" class="tk">150</text>
<text transform="translate(31.60,210.97) scale(0.1)" text-anchor="end" class="tk">100</text>
<text transform="translate(31.60,244.63) scale(0.1)" text-anchor="end" class="tk">50</text>
<text transform="translate(31.60,278.30) scale(0.1)" text-anchor="end" class="tk">0</text>
<text transform="translate(285.75,305.90) scale(0.1)" text-anchor="middle" class="lb">Frequency (kHz)</text>
<text transform="translate(13.00,224.20) rotate(-90) scale(0.1)" text-anchor="middle" class="lb">Magnitude (|P1(f)|)</text>
<clipPath id="c2"><rect x="34.6" y="174.3" width="502.9" height="102.0"/></clipPath>
<g clip-path="url(#c2)">
<path d="M27.23,269.91 L39.51,269.91 L51.79,269.91 L64.07,269.85 L76.34,269.51 L88.62,269.11 L100.90,268.70 L113.18,268.50 L125.46,268.10 L137.73,267.35 L150.01,265.87 L162.29,264.73 L174.57,264.53 L186.85,265.47 L199.12,265.87 L211.40,260.89 L223.68,249.92 L235.96,235.24 L248.23,222.71 L260.51,210.46 L272.79,203.32 L285.07,200.49 L297.35,202.11 L309.62,207.90 L321.90,216.92 L334.18,225.27 L346.46,234.90 L358.73,243.92 L371.01,252.07 L383.29,259.27 L395.57,263.92 L407.85,266.08 L420.12,266.28 L432.40,267.09 L444.68,269.11 L456.96,271.39 L469.24,272.81 L481.51,272.00 L493.79,271.06 L506.07,270.99 L518.35,271.13 L530.62,271.93 L542.90,272.34" fill="none" stroke="#000" stroke-width="1.4" stroke-linejoin="round"/>
</g>
<path d="M37.81,268.21 l3.4,3.4 M37.81,271.61 l3.4,-3.4 M50.09,268.21 l3.4,3.4 M50.09,271.61 l3.4,-3.4 M62.37,268.15 l3.4,3.4 M62.37,271.55 l3.4,-3.4 M74.64,267.81 l3.4,3.4 M74.64,271.21 l3.4,-3.4 M86.92,267.41 l3.4,3.4 M86.92,270.81 l3.4,-3.4 M99.20,267.00 l3.4,3.4 M99.20,270.40 l3.4,-3.4 M111.48,266.80 l3.4,3.4 M111.48,270.20 l3.4,-3.4 M123.76,266.40 l3.4,3.4 M123.76,269.80 l3.4,-3.4 M136.03,265.65 l3.4,3.4 M136.03,269.05 l3.4,-3.4 M148.31,264.17 l3.4,3.4 M148.31,267.57 l3.4,-3.4 M160.59,263.03 l3.4,3.4 M160.59,266.43 l3.4,-3.4 M172.87,262.83 l3.4,3.4 M172.87,266.23 l3.4,-3.4 M185.15,263.77 l3.4,3.4 M185.15,267.17 l3.4,-3.4 M197.42,264.17 l3.4,3.4 M197.42,267.57 l3.4,-3.4 M209.70,259.19 l3.4,3.4 M209.70,262.59 l3.4,-3.4 M221.98,248.22 l3.4,3.4 M221.98,251.62 l3.4,-3.4 M234.26,233.54 l3.4,3.4 M234.26,236.94 l3.4,-3.4 M246.53,221.01 l3.4,3.4 M246.53,224.41 l3.4,-3.4 M258.81,208.76 l3.4,3.4 M258.81,212.16 l3.4,-3.4 M271.09,201.62 l3.4,3.4 M271.09,205.02 l3.4,-3.4 M283.37,198.79 l3.4,3.4 M283.37,202.19 l3.4,-3.4 M295.65,200.41 l3.4,3.4 M295.65,203.81 l3.4,-3.4 M307.92,206.20 l3.4,3.4 M307.92,209.60 l3.4,-3.4 M320.20,215.22 l3.4,3.4 M320.20,218.62 l3.4,-3.4 M332.48,223.57 l3.4,3.4 M332.48,226.97 l3.4,-3.4 M344.76,233.20 l3.4,3.4 M344.76,236.60 l3.4,-3.4 M357.03,242.22 l3.4,3.4 M357.03,245.62 l3.4,-3.4 M369.31,250.37 l3.4,3.4 M369.31,253.77 l3.4,-3.4 M381.59,257.57 l3.4,3.4 M381.59,260.97 l3.4,-3.4 M393.87,262.22 l3.4,3.4 M393.87,265.62 l3.4,-3.4 M406.15,264.38 l3.4,3.4 M406.15,267.78 l3.4,-3.4 M418.42,264.58 l3.4,3.4 M418.42,267.98 l3.4,-3.4 M430.70,265.39 l3.4,3.4 M430.70,268.79 l3.4,-3.4 M442.98,267.41 l3.4,3.4 M442.98,270.81 l3.4,-3.4 M455.26,269.69 l3.4,3.4 M455.26,273.09 l3.4,-3.4 M467.54,271.11 l3.4,3.4 M467.54,274.51 l3.4,-3.4 M479.81,270.30 l3.4,3.4 M479.81,273.70 l3.4,-3.4 M492.09,269.36 l3.4,3.4 M492.09,272.76 l3.4,-3.4 M504.37,269.29 l3.4,3.4 M504.37,272.69 l3.4,-3.4 M516.65,269.43 l3.4,3.4 M516.65,272.83 l3.4,-3.4 M528.92,270.23 l3.4,3.4 M528.92,273.63 l3.4,-3.4" fill="none" stroke="#000" stroke-width="1.1"/>
<g clip-path="url(#c2)">
<path d="M27.23,275.04 L39.51,275.02 L51.79,275.15 L64.07,275.20 L76.34,274.89 L88.62,274.68 L100.90,274.73 L113.18,275.14 L125.46,274.72 L137.73,273.86 L150.01,273.32 L162.29,273.70 L174.57,274.91 L186.85,270.72 L199.12,263.98 L211.40,254.75 L223.68,243.57 L235.96,231.45 L248.23,219.71 L260.51,209.82 L272.79,203.10 L285.07,200.50 L297.35,202.39 L309.62,208.49 L321.90,217.96 L334.18,229.50 L346.46,241.67 L358.73,253.08 L371.01,262.67 L383.29,269.82 L395.57,274.40 L407.85,273.90 L420.12,273.30 L432.40,273.74 L444.68,274.59 L456.96,275.24 L469.24,274.77 L481.51,274.68 L493.79,274.86 L506.07,275.15 L518.35,275.18 L530.62,275.04 L542.90,275.04" fill="none" stroke="#ff2030" stroke-width="1.15" stroke-dasharray="1.2,0.4"/>
</g>
<path d="M37.66,275.02 h3.7 M39.51,273.17 v3.7 M38.36,273.87 l2.3,2.3 M38.36,276.17 l2.3,-2.3 M49.94,275.15 h3.7 M51.79,273.30 v3.7 M50.64,274.00 l2.3,2.3 M50.64,276.30 l2.3,-2.3 M62.22,275.20 h3.7 M64.07,273.35 v3.7 M62.92,274.05 l2.3,2.3 M62.92,276.35 l2.3,-2.3 M74.49,274.89 h3.7 M76.34,273.04 v3.7 M75.19,273.74 l2.3,2.3 M75.19,276.04 l2.3,-2.3 M86.77,274.68 h3.7 M88.62,272.83 v3.7 M87.47,273.53 l2.3,2.3 M87.47,275.83 l2.3,-2.3 M99.05,274.73 h3.7 M100.90,272.88 v3.7 M99.75,273.58 l2.3,2.3 M99.75,275.88 l2.3,-2.3 M111.33,275.14 h3.7 M113.18,273.29 v3.7 M112.03,273.99 l2.3,2.3 M112.03,276.29 l2.3,-2.3 M123.61,274.72 h3.7 M125.46,272.87 v3.7 M124.31,273.57 l2.3,2.3 M124.31,275.87 l2.3,-2.3 M135.88,273.86 h3.7 M137.73,272.01 v3.7 M136.58,272.71 l2.3,2.3 M136.58,275.01 l2.3,-2.3 M148.16,273.32 h3.7 M150.01,271.47 v3.7 M148.86,272.17 l2.3,2.3 M148.86,274.47 l2.3,-2.3 M160.44,273.70 h3.7 M162.29,271.85 v3.7 M161.14,272.55 l2.3,2.3 M161.14,274.85 l2.3,-2.3 M172.72,274.91 h3.7 M174.57,273.06 v3.7 M173.42,273.76 l2.3,2.3 M173.42,276.06 l2.3,-2.3 M185.00,270.72 h3.7 M186.85,268.87 v3.7 M185.70,269.57 l2.3,2.3 M185.70,271.87 l2.3,-2.3 M197.27,263.98 h3.7 M199.12,262.13 v3.7 M197.97,262.83 l2.3,2.3 M197.97,265.13 l2.3,-2.3 M209.55,254.75 h3.7 M211.40,252.90 v3.7 M210.25,253.60 l2.3,2.3 M210.25,255.90 l2.3,-2.3 M221.83,243.57 h3.7 M223.68,241.72 v3.7 M222.53,242.42 l2.3,2.3 M222.53,244.72 l2.3,-2.3 M234.11,231.45 h3.7 M235.96,229.60 v3.7 M234.81,230.30 l2.3,2.3 M234.81,232.60 l2.3,-2.3 M246.38,219.71 h3.7 M248.23,217.86 v3.7 M247.08,218.56 l2.3,2.3 M247.08,220.86 l2.3,-2.3 M258.66,209.82 h3.7 M260.51,207.97 v3.7 M259.36,208.67 l2.3,2.3 M259.36,210.97 l2.3,-2.3 M270.94,203.10 h3.7 M272.79,201.25 v3.7 M271.64,201.95 l2.3,2.3 M271.64,204.25 l2.3,-2.3 M283.22,200.50 h3.7 M285.07,198.65 v3.7 M283.92,199.35 l2.3,2.3 M283.92,201.65 l2.3,-2.3 M295.50,202.39 h3.7 M297.35,200.54 v3.7 M296.20,201.24 l2.3,2.3 M296.20,203.54 l2.3,-2.3 M307.77,208.49 h3.7 M309.62,206.64 v3.7 M308.47,207.34 l2.3,2.3 M308.47,209.64 l2.3,-2.3 M320.05,217.96 h3.7 M321.90,216.11 v3.7 M320.75,216.81 l2.3,2.3 M320.75,219.11 l2.3,-2.3 M332.33,229.50 h3.7 M334.18,227.65 v3.7 M333.03,228.35 l2.3,2.3 M333.03,230.65 l2.3,-2.3 M344.61,241.67 h3.7 M346.46,239.82 v3.7 M345.31,240.52 l2.3,2.3 M345.31,242.82 l2.3,-2.3 M356.88,253.08 h3.7 M358.73,251.23 v3.7 M357.58,251.93 l2.3,2.3 M357.58,254.23 l2.3,-2.3 M369.16,262.67 h3.7 M371.01,260.82 v3.7 M369.86,261.52 l2.3,2.3 M369.86,263.82 l2.3,-2.3 M381.44,269.82 h3.7 M383.29,267.97 v3.7 M382.14,268.67 l2.3,2.3 M382.14,270.97 l2.3,-2.3 M393.72,274.40 h3.7 M395.57,272.55 v3.7 M394.42,273.25 l2.3,2.3 M394.42,275.55 l2.3,-2.3 M406.00,273.90 h3.7 M407.85,272.05 v3.7 M406.70,272.75 l2.3,2.3 M406.70,275.05 l2.3,-2.3 M418.27,273.30 h3.7 M420.12,271.45 v3.7 M418.97,272.15 l2.3,2.3 M418.97,274.45 l2.3,-2.3 M430.55,273.74 h3.7 M432.40,271.89 v3.7 M431.25,272.59 l2.3,2.3 M431.25,274.89 l2.3,-2.3 M442.83,274.59 h3.7 M444.68,272.74 v3.7 M443.53,273.44 l2.3,2.3 M443.53,275.74 l2.3,-2.3 M455.11,275.24 h3.7 M456.96,273.39 v3.7 M455.81,274.09 l2.3,2.3 M455.81,276.39 l2.3,-2.3 M467.39,274.77 h3.7 M469.24,272.92 v3.7 M468.09,273.62 l2.3,2.3 M468.09,275.92 l2.3,-2.3 M479.66,274.68 h3.7 M481.51,272.83 v3.7 M480.36,273.53 l2.3,2.3 M480.36,275.83 l2.3,-2.3 M491.94,274.86 h3.7 M493.79,273.01 v3.7 M492.64,273.71 l2.3,2.3 M492.64,276.01 l2.3,-2.3 M504.22,275.15 h3.7 M506.07,273.30 v3.7 M504.92,274.00 l2.3,2.3 M504.92,276.30 l2.3,-2.3 M516.50,275.18 h3.7 M518.35,273.33 v3.7 M517.20,274.03 l2.3,2.3 M517.20,276.33 l2.3,-2.3 M528.77,275.04 h3.7 M530.62,273.19 v3.7 M529.47,273.89 l2.3,2.3 M529.47,276.19 l2.3,-2.3" fill="none" stroke="#ff0000" stroke-width="1.0"/>
<text transform="translate(286.00,319.30) scale(0.1)" text-anchor="middle" class="cp">(b)</text>
</svg>
</body></html>
